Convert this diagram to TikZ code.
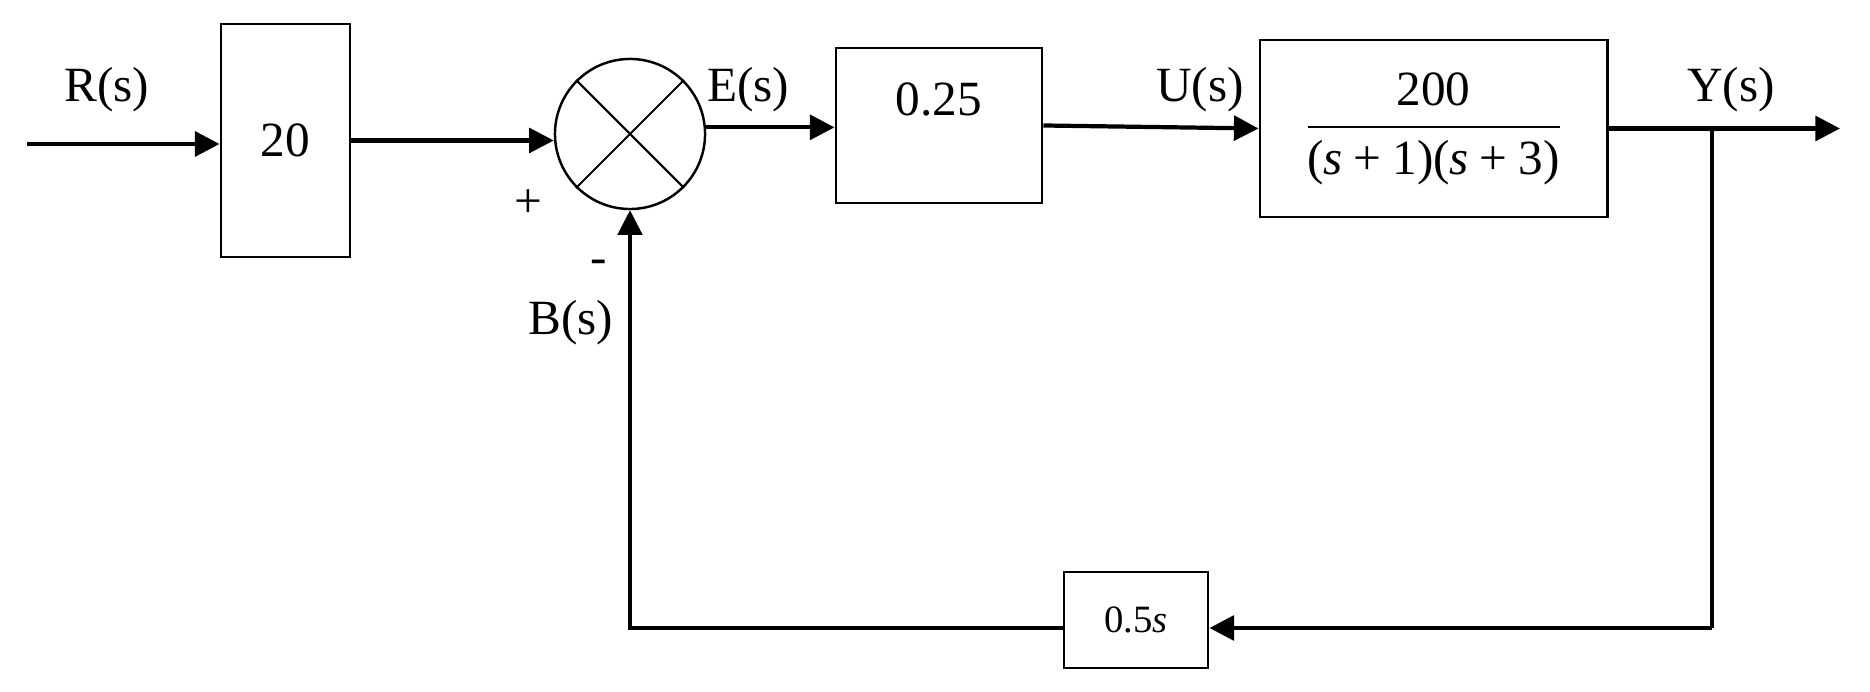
\documentclass[tikz,border=0pt]{standalone}
\usepackage{amsmath}
\usepackage{fontspec}
\setmainfont{Liberation Serif}
\usetikzlibrary{arrows.meta,positioning,calc}

\begin{document}
\begin{tikzpicture}[x=0.01cm,y=-0.01cm,
    font=\fontsize{14}{17}\selectfont,
    >={Triangle[length=7pt,width=7pt]},
    block/.style={rectangle,draw,line width=0.8pt,inner sep=0pt},
    sig/.style={line width=1.2pt},
    fbk/.style={line width=0.9pt}]
    \useasboundingbox (0,0) rectangle (1870,692);
    \node[block,minimum width=1.29cm,minimum height=2.33cm](g1) at (285.5,140.5){20};
    \node[circle,draw,line width=0.7pt,minimum size=1.5cm,inner sep=0pt](sum) at (630,134){};
    \draw[line width=0.6pt](sum.45)--(sum.225) (sum.135)--(sum.315);
    \node[block,minimum width=2.06cm,minimum height=1.55cm,text depth=15pt](k) at (939,125.5){0.25};
    \node[block,minimum width=3.47cm,minimum height=1.77cm](g2) at (1433.5,128.5)
        {$\dfrac{\text{200}}{\text{(\textit{s}\hspace{.22em}+\hspace{.22em}1)(\textit{s}\hspace{.22em}+\hspace{.22em}3)}}$};
    \node[block,minimum width=1.44cm,minimum height=0.96cm,font=\fontsize{11}{13}\selectfont](h) at (1136,620){0.5\textit{s}};
    \coordinate(in) at (27,144);
    \coordinate(out) at (1840,128.5);
    \coordinate(br) at (1712,128.5);
    \coordinate(fb) at (1712,628);
    \draw[sig,->](in)--(in-|g1.west);
    \draw[sig,->](g1.east)--(g1.east-|sum.west);
    \draw[sig,->](sum.5)--(sum.5-|k.west);
    \draw[sig,->](k.east)--(g2.west);
    \draw[sig,->](g2.east)--(out);
    \draw[fbk](br)--(fb);
    \draw[sig,->](fb)--(fb-|h.east);
    \draw[fbk,->](h.west|-fb)--(fb-|sum.south)--(sum.south);
    \node(R) at (107,90){R(s)};
    \node(E) at (748,90){E(s)};
    \node(U) at (1200,90){U(s)};
    \node(Y) at (1731,90){Y(s)};
    \node(B) at (571,323){B(s)};
    \node(pl) at (528,204){+};
    \node(mi) at (599,267){-};
\end{tikzpicture}
\end{document}
